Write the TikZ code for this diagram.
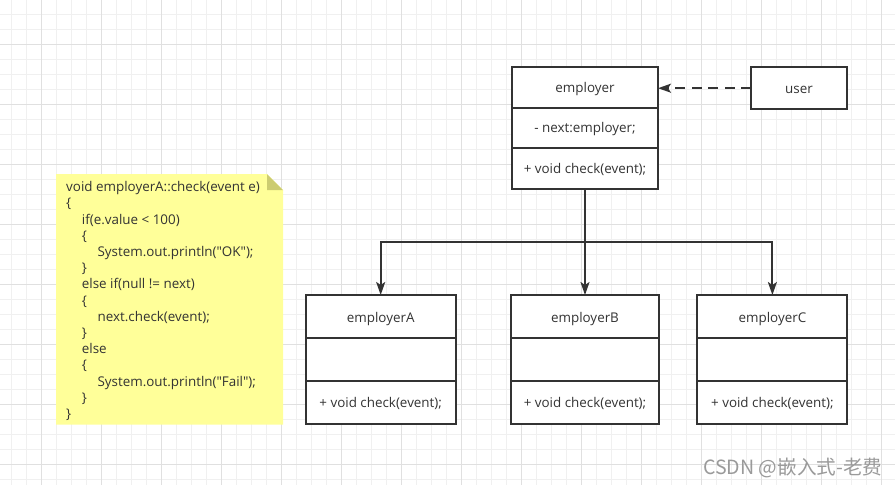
\documentclass[tikz,border=0pt]{standalone}
\usepackage{fontspec}
\setmainfont{Open Sans}
\newfontfamily\cjkfont{Noto Sans CJK SC}
\usetikzlibrary{arrows.meta}
\definecolor{ink}{HTML}{333333}
\definecolor{notefill}{HTML}{FFFF99}
\definecolor{notefold}{HTML}{CCCC70}
\definecolor{gridminor}{HTML}{F0F0F0}
\definecolor{gridmajor}{HTML}{E0E0E0}
\definecolor{wmcol}{HTML}{9A9A9A}
\begin{document}
\begin{tikzpicture}[x=1pt,y=-1pt,
  txt/.style={font=\fontsize{13.4}{15}\selectfont},
  cell/.style={draw=ink, line width=2pt, fill=white, text=ink, txt,
    text height=9.6pt, text depth=0pt, inner sep=0pt, outer sep=0pt},
  empcell/.style={cell, minimum width=146pt, minimum height=40.5pt},
  subcell/.style={cell, minimum height=43pt},
  tip/.style={-{Stealth[length=13pt,width=9pt,inset=3pt]}},
  link/.style={draw=ink, line width=2pt, tip},
  codeline/.style={anchor=base west, inner sep=0pt, text=ink, txt},
]
\useasboundingbox (0,0) rectangle (895,485);
\fill[white] (0,0) rectangle (895,485);
% grid
\foreach \x in {11.5,26.5,...,895} \draw[gridminor, line width=1pt] (\x,0) -- (\x,485);
\foreach \y in {14.3,29.3,...,485} \draw[gridminor, line width=1pt] (0,\y) -- (895,\y);
\foreach \x in {41.5,101.5,...,895} \draw[gridmajor, line width=1pt] (\x,0) -- (\x,485);
\foreach \y in {44.3,104.3,...,485} \draw[gridmajor, line width=1pt] (0,\y) -- (895,\y);

% note
\fill[notefill] (56,174) -- (267,174) -- (283,190) -- (283,424.5) -- (56,424.5) -- cycle;
\fill[notefold] (267,174) -- (267,190) -- (283,190) -- cycle;
\foreach \n/\ind/\txt in {
  0/0/void employerA::check(event e),
  1/0/\{,
  2/1/if(e.value < 100),
  3/1/\{,
  4/2/System.out.println(\textquotedbl OK\textquotedbl);,
  5/1/\},
  6/1/else if(null != next),
  7/1/\{,
  8/2/next.check(event);,
  9/1/\},
  10/1/else,
  11/1/\{,
  12/2/System.out.println(\textquotedbl Fail\textquotedbl);,
  13/1/\},
  14/0/\}}
  \node[codeline] (code\n) at ({66+15.7*\ind}, {191.6+16.2*\n}) {\txt};

% employer class
\node[empcell] (emp) at (585,87.5) {employer};
\node[empcell] (empattr) at (585,128) {- next:employer;};
\node[empcell] (empops) at (585,168.5) {+ void check(event);};

% user
\node[cell, minimum width=96pt, minimum height=41.7pt] (user) at (799,88.2) {user};

% subclasses
\foreach \nm/\cx/\w in {A/380.7/150, B/585/148, C/772.4/150} {
  \node[subcell, minimum width=\w pt] (\nm t) at (\cx,316.5) {};
  \node[anchor=base, inner sep=0pt, text=ink, txt] (\nm name) at (\cx,322.3) {employer\nm};
  \node[subcell, minimum width=\w pt] (\nm a) at (\cx,359.5) {};
  \node[subcell, minimum width=\w pt] (\nm o) at (\cx,402.5) {+ void check(event);};
}

% connectors
\draw[ink, line width=2pt, dash pattern=on 10pt off 6.5pt, tip] (user.west) -- (user.west -| emp.east);
\coordinate (split) at (585,242.3);
\draw[link] (empops.south) -- (Bt.north);
\draw[link] (split) -| (At.north);
\draw[link] (split) -| (Ct.north);

% watermark
\node[anchor=base west, inner sep=0pt, text=wmcol, font=\cjkfont\fontsize{19.6}{19.6}\selectfont] (wm) at (703,474) {CSDN @嵌入式-老费};
\end{tikzpicture}
\end{document}
